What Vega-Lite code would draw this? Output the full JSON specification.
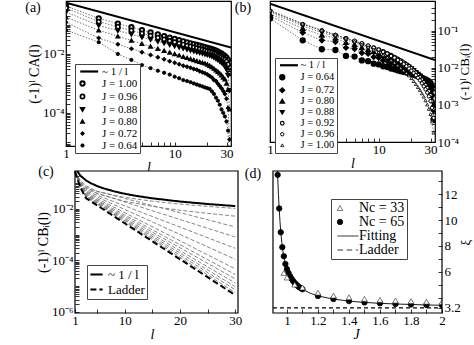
{
"$schema":"https://vega.github.io/schema/vega-lite/v6.json",
"background":"white",
"padding":{"left":24,"top":0,"right":0,"bottom":0},
"datasets":{
"A":[
{"s":"~ 1 / l","l":1,"v":0.55},{"s":"~ 1 / l","l":33,"v":0.0167},
{"s":"J = 1.00","l":1,"v":0.427},{"s":"J = 1.00","l":2,"v":0.162},{"s":"J = 1.00","l":3,"v":0.108},{"s":"J = 1.00","l":4,"v":0.0809},{"s":"J = 1.00","l":5,"v":0.0647},{"s":"J = 1.00","l":6,"v":0.054},{"s":"J = 1.00","l":7,"v":0.0462},{"s":"J = 1.00","l":8,"v":0.0405},{"s":"J = 1.00","l":9,"v":0.036},{"s":"J = 1.00","l":10,"v":0.0324},{"s":"J = 1.00","l":11,"v":0.0294},{"s":"J = 1.00","l":12,"v":0.027},{"s":"J = 1.00","l":13,"v":0.0249},{"s":"J = 1.00","l":14,"v":0.0231},{"s":"J = 1.00","l":15,"v":0.0216},{"s":"J = 1.00","l":16,"v":0.0202},{"s":"J = 1.00","l":17,"v":0.0191},{"s":"J = 1.00","l":18,"v":0.018},{"s":"J = 1.00","l":19,"v":0.017},{"s":"J = 1.00","l":20,"v":0.0162},{"s":"J = 1.00","l":21,"v":0.0154},{"s":"J = 1.00","l":22,"v":0.0147},{"s":"J = 1.00","l":23,"v":0.0137},{"s":"J = 1.00","l":24,"v":0.0129},{"s":"J = 1.00","l":25,"v":0.0121},{"s":"J = 1.00","l":26,"v":0.0111},{"s":"J = 1.00","l":27,"v":0.0102},{"s":"J = 1.00","l":28,"v":0.0094},{"s":"J = 1.00","l":29,"v":0.00847},{"s":"J = 1.00","l":30,"v":0.00746},{"s":"J = 1.00","l":31,"v":0.0063},{"s":"J = 1.00","l":32,"v":0.00359},
{"s":"J = 0.96","l":1,"v":0.363},{"s":"J = 0.96","l":2,"v":0.1256},{"s":"J = 0.96","l":3,"v":0.0838},{"s":"J = 0.96","l":4,"v":0.0628},{"s":"J = 0.96","l":5,"v":0.0502},{"s":"J = 0.96","l":6,"v":0.0419},{"s":"J = 0.96","l":7,"v":0.0359},{"s":"J = 0.96","l":8,"v":0.0314},{"s":"J = 0.96","l":9,"v":0.0279},{"s":"J = 0.96","l":10,"v":0.0251},{"s":"J = 0.96","l":11,"v":0.0229},{"s":"J = 0.96","l":12,"v":0.0209},{"s":"J = 0.96","l":13,"v":0.0193},{"s":"J = 0.96","l":14,"v":0.018},{"s":"J = 0.96","l":15,"v":0.0168},{"s":"J = 0.96","l":16,"v":0.0157},{"s":"J = 0.96","l":17,"v":0.0148},{"s":"J = 0.96","l":18,"v":0.014},{"s":"J = 0.96","l":19,"v":0.0132},{"s":"J = 0.96","l":20,"v":0.0126},{"s":"J = 0.96","l":21,"v":0.012},{"s":"J = 0.96","l":22,"v":0.0114},{"s":"J = 0.96","l":23,"v":0.0107},{"s":"J = 0.96","l":24,"v":0.01},{"s":"J = 0.96","l":25,"v":0.00916},{"s":"J = 0.96","l":26,"v":0.00861},{"s":"J = 0.96","l":27,"v":0.00793},{"s":"J = 0.96","l":28,"v":0.00713},{"s":"J = 0.96","l":29,"v":0.00643},{"s":"J = 0.96","l":30,"v":0.00553},{"s":"J = 0.96","l":31,"v":0.00446},{"s":"J = 0.96","l":32,"v":0.00221},
{"s":"J = 0.88","l":1,"v":0.263},{"s":"J = 0.88","l":2,"v":0.0931},{"s":"J = 0.88","l":3,"v":0.0621},{"s":"J = 0.88","l":4,"v":0.0466},{"s":"J = 0.88","l":5,"v":0.0372},{"s":"J = 0.88","l":6,"v":0.031},{"s":"J = 0.88","l":7,"v":0.0266},{"s":"J = 0.88","l":8,"v":0.0233},{"s":"J = 0.88","l":9,"v":0.0207},{"s":"J = 0.88","l":10,"v":0.0186},{"s":"J = 0.88","l":11,"v":0.0169},{"s":"J = 0.88","l":12,"v":0.0155},{"s":"J = 0.88","l":13,"v":0.0143},{"s":"J = 0.88","l":14,"v":0.0133},{"s":"J = 0.88","l":15,"v":0.0124},{"s":"J = 0.88","l":16,"v":0.0116},{"s":"J = 0.88","l":17,"v":0.011},{"s":"J = 0.88","l":18,"v":0.0104},{"s":"J = 0.88","l":19,"v":0.0098},{"s":"J = 0.88","l":20,"v":0.0093},{"s":"J = 0.88","l":21,"v":0.0089},{"s":"J = 0.88","l":22,"v":0.0083},{"s":"J = 0.88","l":23,"v":0.0076},{"s":"J = 0.88","l":24,"v":0.0069},{"s":"J = 0.88","l":25,"v":0.0063},{"s":"J = 0.88","l":26,"v":0.0057},{"s":"J = 0.88","l":27,"v":0.0051},{"s":"J = 0.88","l":28,"v":0.0045},{"s":"J = 0.88","l":29,"v":0.0039},{"s":"J = 0.88","l":30,"v":0.003},{"s":"J = 0.88","l":31,"v":0.0019},{"s":"J = 0.88","l":32,"v":0.00058},
{"s":"J = 0.80","l":1,"v":0.178},{"s":"J = 0.80","l":2,"v":0.0637},{"s":"J = 0.80","l":3,"v":0.0399},{"s":"J = 0.80","l":4,"v":0.0287},{"s":"J = 0.80","l":5,"v":0.0222},{"s":"J = 0.80","l":6,"v":0.018},{"s":"J = 0.80","l":7,"v":0.0151},{"s":"J = 0.80","l":8,"v":0.0129},{"s":"J = 0.80","l":9,"v":0.0113},{"s":"J = 0.80","l":10,"v":0.01},{"s":"J = 0.80","l":11,"v":0.009},{"s":"J = 0.80","l":12,"v":0.0081},{"s":"J = 0.80","l":13,"v":0.0074},{"s":"J = 0.80","l":14,"v":0.0068},{"s":"J = 0.80","l":15,"v":0.0063},{"s":"J = 0.80","l":16,"v":0.0058},{"s":"J = 0.80","l":17,"v":0.0054},{"s":"J = 0.80","l":18,"v":0.0051},{"s":"J = 0.80","l":19,"v":0.0048},{"s":"J = 0.80","l":20,"v":0.0044},{"s":"J = 0.80","l":21,"v":0.004},{"s":"J = 0.80","l":22,"v":0.0036},{"s":"J = 0.80","l":23,"v":0.0032},{"s":"J = 0.80","l":24,"v":0.0028},{"s":"J = 0.80","l":25,"v":0.0025},{"s":"J = 0.80","l":26,"v":0.0022},{"s":"J = 0.80","l":27,"v":0.0019},{"s":"J = 0.80","l":28,"v":0.0016},{"s":"J = 0.80","l":29,"v":0.0014},{"s":"J = 0.80","l":30,"v":0.001},{"s":"J = 0.80","l":31,"v":0.00061},{"s":"J = 0.80","l":32,"v":0.000132},
{"s":"J = 0.72","l":1,"v":0.12},{"s":"J = 0.72","l":2,"v":0.0346},{"s":"J = 0.72","l":3,"v":0.0213},{"s":"J = 0.72","l":4,"v":0.0151},{"s":"J = 0.72","l":5,"v":0.0115},{"s":"J = 0.72","l":6,"v":0.0093},{"s":"J = 0.72","l":7,"v":0.0077},{"s":"J = 0.72","l":8,"v":0.0066},{"s":"J = 0.72","l":9,"v":0.0057},{"s":"J = 0.72","l":10,"v":0.005},{"s":"J = 0.72","l":11,"v":0.0045},{"s":"J = 0.72","l":12,"v":0.004},{"s":"J = 0.72","l":13,"v":0.0037},{"s":"J = 0.72","l":14,"v":0.0034},{"s":"J = 0.72","l":15,"v":0.0031},{"s":"J = 0.72","l":16,"v":0.0029},{"s":"J = 0.72","l":17,"v":0.0026},{"s":"J = 0.72","l":18,"v":0.0024},{"s":"J = 0.72","l":19,"v":0.0022},{"s":"J = 0.72","l":20,"v":0.002},{"s":"J = 0.72","l":21,"v":0.0018},{"s":"J = 0.72","l":22,"v":0.0016},{"s":"J = 0.72","l":23,"v":0.0013},{"s":"J = 0.72","l":24,"v":0.0012},{"s":"J = 0.72","l":25,"v":0.00098},{"s":"J = 0.72","l":26,"v":0.00082},{"s":"J = 0.72","l":27,"v":0.00068},{"s":"J = 0.72","l":28,"v":0.00055},{"s":"J = 0.72","l":29,"v":0.00044},{"s":"J = 0.72","l":30,"v":0.0003},{"s":"J = 0.72","l":31,"v":0.000145},{"s":"J = 0.72","l":32,"v":0.0000124},
{"s":"J = 0.64","l":1,"v":0.0646},{"s":"J = 0.64","l":2,"v":0.0251},{"s":"J = 0.64","l":3,"v":0.01},{"s":"J = 0.64","l":4,"v":0.0063},{"s":"J = 0.64","l":5,"v":0.0042},{"s":"J = 0.64","l":6,"v":0.0033},{"s":"J = 0.64","l":7,"v":0.0027},{"s":"J = 0.64","l":8,"v":0.0023},{"s":"J = 0.64","l":9,"v":0.002},{"s":"J = 0.64","l":10,"v":0.0017},{"s":"J = 0.64","l":11,"v":0.0015},{"s":"J = 0.64","l":12,"v":0.0013},{"s":"J = 0.64","l":13,"v":0.0012},{"s":"J = 0.64","l":14,"v":0.0011},{"s":"J = 0.64","l":15,"v":0.001},{"s":"J = 0.64","l":16,"v":0.00092},{"s":"J = 0.64","l":17,"v":0.00085},{"s":"J = 0.64","l":18,"v":0.00079},{"s":"J = 0.64","l":19,"v":0.00073},{"s":"J = 0.64","l":20,"v":0.00069},{"s":"J = 0.64","l":21,"v":0.00065},{"s":"J = 0.64","l":22,"v":0.00054},{"s":"J = 0.64","l":23,"v":0.00044},{"s":"J = 0.64","l":24,"v":0.00033},{"s":"J = 0.64","l":25,"v":0.00026},{"s":"J = 0.64","l":26,"v":0.00019},{"s":"J = 0.64","l":27,"v":0.00013},{"s":"J = 0.64","l":28,"v":0.0001},{"s":"J = 0.64","l":29,"v":0.000076},{"s":"J = 0.64","l":30,"v":0.000051},{"s":"J = 0.64","l":31,"v":0.000025},{"s":"J = 0.64","l":32,"v":0.0000012}
],
"B":[
{"s":"~ 1 / l","l":1,"v":0.53},{"s":"~ 1 / l","l":33,"v":0.0161},
{"s":"J = 0.64","l":1,"v":0.214},{"s":"J = 0.64","l":2,"v":0.055},{"s":"J = 0.64","l":3,"v":0.0316},{"s":"J = 0.64","l":4,"v":0.0302},{"s":"J = 0.64","l":5,"v":0.0209},{"s":"J = 0.64","l":6,"v":0.02},{"s":"J = 0.64","l":7,"v":0.0158},{"s":"J = 0.64","l":8,"v":0.0151},{"s":"J = 0.64","l":9,"v":0.0129},{"s":"J = 0.64","l":10,"v":0.0123},{"s":"J = 0.64","l":11,"v":0.011},{"s":"J = 0.64","l":12,"v":0.0105},{"s":"J = 0.64","l":13,"v":0.00955},{"s":"J = 0.64","l":14,"v":0.00912},{"s":"J = 0.64","l":15,"v":0.00851},{"s":"J = 0.64","l":16,"v":0.00813},{"s":"J = 0.64","l":17,"v":0.00776},{"s":"J = 0.64","l":18,"v":0.00741},{"s":"J = 0.64","l":19,"v":0.00708},{"s":"J = 0.64","l":20,"v":0.00676},{"s":"J = 0.64","l":21,"v":0.00646},{"s":"J = 0.64","l":22,"v":0.00617},{"s":"J = 0.64","l":23,"v":0.00589},{"s":"J = 0.64","l":24,"v":0.00562},{"s":"J = 0.64","l":25,"v":0.00537},{"s":"J = 0.64","l":26,"v":0.00513},{"s":"J = 0.64","l":27,"v":0.0049},{"s":"J = 0.64","l":28,"v":0.00457},{"s":"J = 0.64","l":29,"v":0.00427},{"s":"J = 0.64","l":30,"v":0.00389},{"s":"J = 0.64","l":31,"v":0.00316},{"s":"J = 0.64","l":32,"v":0.000398},
{"s":"J = 0.72","l":1,"v":0.251},{"s":"J = 0.72","l":2,"v":0.0891},{"s":"J = 0.72","l":3,"v":0.055},{"s":"J = 0.72","l":4,"v":0.0501},{"s":"J = 0.72","l":5,"v":0.0347},{"s":"J = 0.72","l":6,"v":0.0324},{"s":"J = 0.72","l":7,"v":0.0251},{"s":"J = 0.72","l":8,"v":0.024},{"s":"J = 0.72","l":9,"v":0.0195},{"s":"J = 0.72","l":10,"v":0.0186},{"s":"J = 0.72","l":11,"v":0.0158},{"s":"J = 0.72","l":12,"v":0.0151},{"s":"J = 0.72","l":13,"v":0.0132},{"s":"J = 0.72","l":14,"v":0.0126},{"s":"J = 0.72","l":15,"v":0.0112},{"s":"J = 0.72","l":16,"v":0.0107},{"s":"J = 0.72","l":17,"v":0.00955},{"s":"J = 0.72","l":18,"v":0.00912},{"s":"J = 0.72","l":19,"v":0.00832},{"s":"J = 0.72","l":20,"v":0.00794},{"s":"J = 0.72","l":21,"v":0.00724},{"s":"J = 0.72","l":22,"v":0.00692},{"s":"J = 0.72","l":23,"v":0.00631},{"s":"J = 0.72","l":24,"v":0.00603},{"s":"J = 0.72","l":25,"v":0.0055},{"s":"J = 0.72","l":26,"v":0.00513},{"s":"J = 0.72","l":27,"v":0.00468},{"s":"J = 0.72","l":28,"v":0.00427},{"s":"J = 0.72","l":29,"v":0.0038},{"s":"J = 0.72","l":30,"v":0.00331},{"s":"J = 0.72","l":31,"v":0.00251},{"s":"J = 0.72","l":32,"v":0.000708},
{"s":"J = 0.80","l":1,"v":0.282},{"s":"J = 0.80","l":2,"v":0.115},{"s":"J = 0.80","l":3,"v":0.0759},{"s":"J = 0.80","l":4,"v":0.0631},{"s":"J = 0.80","l":5,"v":0.0479},{"s":"J = 0.80","l":6,"v":0.0417},{"s":"J = 0.80","l":7,"v":0.0347},{"s":"J = 0.80","l":8,"v":0.0309},{"s":"J = 0.80","l":9,"v":0.0269},{"s":"J = 0.80","l":10,"v":0.024},{"s":"J = 0.80","l":11,"v":0.0214},{"s":"J = 0.80","l":12,"v":0.0195},{"s":"J = 0.80","l":13,"v":0.0174},{"s":"J = 0.80","l":14,"v":0.0158},{"s":"J = 0.80","l":15,"v":0.0145},{"s":"J = 0.80","l":16,"v":0.0132},{"s":"J = 0.80","l":17,"v":0.012},{"s":"J = 0.80","l":18,"v":0.011},{"s":"J = 0.80","l":19,"v":0.01},{"s":"J = 0.80","l":20,"v":0.00912},{"s":"J = 0.80","l":21,"v":0.00832},{"s":"J = 0.80","l":22,"v":0.00759},{"s":"J = 0.80","l":23,"v":0.00692},{"s":"J = 0.80","l":24,"v":0.00631},{"s":"J = 0.80","l":25,"v":0.00562},{"s":"J = 0.80","l":26,"v":0.00501},{"s":"J = 0.80","l":27,"v":0.00447},{"s":"J = 0.80","l":28,"v":0.00389},{"s":"J = 0.80","l":29,"v":0.00331},{"s":"J = 0.80","l":30,"v":0.00275},{"s":"J = 0.80","l":31,"v":0.002},{"s":"J = 0.80","l":32,"v":0.001},
{"s":"J = 0.88","l":1,"v":0.316},{"s":"J = 0.88","l":2,"v":0.135},{"s":"J = 0.88","l":3,"v":0.0891},{"s":"J = 0.88","l":4,"v":0.0708},{"s":"J = 0.88","l":5,"v":0.0562},{"s":"J = 0.88","l":6,"v":0.0479},{"s":"J = 0.88","l":7,"v":0.0407},{"s":"J = 0.88","l":8,"v":0.0355},{"s":"J = 0.88","l":9,"v":0.0316},{"s":"J = 0.88","l":10,"v":0.0282},{"s":"J = 0.88","l":11,"v":0.0251},{"s":"J = 0.88","l":12,"v":0.0224},{"s":"J = 0.88","l":13,"v":0.02},{"s":"J = 0.88","l":14,"v":0.0178},{"s":"J = 0.88","l":15,"v":0.0158},{"s":"J = 0.88","l":16,"v":0.0145},{"s":"J = 0.88","l":17,"v":0.0129},{"s":"J = 0.88","l":18,"v":0.0117},{"s":"J = 0.88","l":19,"v":0.0105},{"s":"J = 0.88","l":20,"v":0.00955},{"s":"J = 0.88","l":21,"v":0.00851},{"s":"J = 0.88","l":22,"v":0.00759},{"s":"J = 0.88","l":23,"v":0.00676},{"s":"J = 0.88","l":24,"v":0.00603},{"s":"J = 0.88","l":25,"v":0.00525},{"s":"J = 0.88","l":26,"v":0.00457},{"s":"J = 0.88","l":27,"v":0.00398},{"s":"J = 0.88","l":28,"v":0.00339},{"s":"J = 0.88","l":29,"v":0.00282},{"s":"J = 0.88","l":30,"v":0.00224},{"s":"J = 0.88","l":31,"v":0.00158},{"s":"J = 0.88","l":32,"v":0.00112},
{"s":"J = 0.92","l":1,"v":0.339},{"s":"J = 0.92","l":2,"v":0.148},{"s":"J = 0.92","l":3,"v":0.1},{"s":"J = 0.92","l":4,"v":0.0759},{"s":"J = 0.92","l":5,"v":0.0617},{"s":"J = 0.92","l":6,"v":0.0525},{"s":"J = 0.92","l":7,"v":0.0447},{"s":"J = 0.92","l":8,"v":0.0389},{"s":"J = 0.92","l":9,"v":0.0347},{"s":"J = 0.92","l":10,"v":0.0309},{"s":"J = 0.92","l":11,"v":0.0275},{"s":"J = 0.92","l":12,"v":0.0245},{"s":"J = 0.92","l":13,"v":0.0219},{"s":"J = 0.92","l":14,"v":0.0195},{"s":"J = 0.92","l":15,"v":0.0174},{"s":"J = 0.92","l":16,"v":0.0155},{"s":"J = 0.92","l":17,"v":0.0138},{"s":"J = 0.92","l":18,"v":0.0123},{"s":"J = 0.92","l":19,"v":0.011},{"s":"J = 0.92","l":20,"v":0.00977},{"s":"J = 0.92","l":21,"v":0.00851},{"s":"J = 0.92","l":22,"v":0.00741},{"s":"J = 0.92","l":23,"v":0.00646},{"s":"J = 0.92","l":24,"v":0.00562},{"s":"J = 0.92","l":25,"v":0.00479},{"s":"J = 0.92","l":26,"v":0.00407},{"s":"J = 0.92","l":27,"v":0.00347},{"s":"J = 0.92","l":28,"v":0.00288},{"s":"J = 0.92","l":29,"v":0.00234},{"s":"J = 0.92","l":30,"v":0.00182},{"s":"J = 0.92","l":31,"v":0.00126},{"s":"J = 0.92","l":32,"v":0.000794},
{"s":"J = 0.96","l":1,"v":0.347},{"s":"J = 0.96","l":2,"v":0.151},{"s":"J = 0.96","l":3,"v":0.102},{"s":"J = 0.96","l":4,"v":0.0776},{"s":"J = 0.96","l":5,"v":0.0631},{"s":"J = 0.96","l":6,"v":0.0537},{"s":"J = 0.96","l":7,"v":0.0457},{"s":"J = 0.96","l":8,"v":0.0398},{"s":"J = 0.96","l":9,"v":0.0347},{"s":"J = 0.96","l":10,"v":0.0309},{"s":"J = 0.96","l":11,"v":0.0269},{"s":"J = 0.96","l":12,"v":0.024},{"s":"J = 0.96","l":13,"v":0.0209},{"s":"J = 0.96","l":14,"v":0.0186},{"s":"J = 0.96","l":15,"v":0.0162},{"s":"J = 0.96","l":16,"v":0.0145},{"s":"J = 0.96","l":17,"v":0.0126},{"s":"J = 0.96","l":18,"v":0.011},{"s":"J = 0.96","l":19,"v":0.00955},{"s":"J = 0.96","l":20,"v":0.00832},{"s":"J = 0.96","l":21,"v":0.00724},{"s":"J = 0.96","l":22,"v":0.00631},{"s":"J = 0.96","l":23,"v":0.00537},{"s":"J = 0.96","l":24,"v":0.00457},{"s":"J = 0.96","l":25,"v":0.0038},{"s":"J = 0.96","l":26,"v":0.00316},{"s":"J = 0.96","l":27,"v":0.00263},{"s":"J = 0.96","l":28,"v":0.00214},{"s":"J = 0.96","l":29,"v":0.0017},{"s":"J = 0.96","l":30,"v":0.00126},{"s":"J = 0.96","l":31,"v":0.000832},{"s":"J = 0.96","l":32,"v":0.000447},
{"s":"J = 1.00","l":1,"v":0.355},{"s":"J = 1.00","l":2,"v":0.155},{"s":"J = 1.00","l":3,"v":0.102},{"s":"J = 1.00","l":4,"v":0.0776},{"s":"J = 1.00","l":5,"v":0.0617},{"s":"J = 1.00","l":6,"v":0.0513},{"s":"J = 1.00","l":7,"v":0.0427},{"s":"J = 1.00","l":8,"v":0.0363},{"s":"J = 1.00","l":9,"v":0.0309},{"s":"J = 1.00","l":10,"v":0.0263},{"s":"J = 1.00","l":11,"v":0.0224},{"s":"J = 1.00","l":12,"v":0.0191},{"s":"J = 1.00","l":13,"v":0.0162},{"s":"J = 1.00","l":14,"v":0.0138},{"s":"J = 1.00","l":15,"v":0.0117},{"s":"J = 1.00","l":16,"v":0.01},{"s":"J = 1.00","l":17,"v":0.00851},{"s":"J = 1.00","l":18,"v":0.00724},{"s":"J = 1.00","l":19,"v":0.00617},{"s":"J = 1.00","l":20,"v":0.00525},{"s":"J = 1.00","l":21,"v":0.00437},{"s":"J = 1.00","l":22,"v":0.00363},{"s":"J = 1.00","l":23,"v":0.00302},{"s":"J = 1.00","l":24,"v":0.00251},{"s":"J = 1.00","l":25,"v":0.00204},{"s":"J = 1.00","l":26,"v":0.00166},{"s":"J = 1.00","l":27,"v":0.00132},{"s":"J = 1.00","l":28,"v":0.00102},{"s":"J = 1.00","l":29,"v":0.000776},{"s":"J = 1.00","l":30,"v":0.000562},{"s":"J = 1.00","l":31,"v":0.000355},{"s":"J = 1.00","l":32,"v":0.000178}
],
"C":[
{"s":"~ 1 / l","l":1,"v":0.39},{"s":"~ 1 / l","l":2,"v":0.195},{"s":"~ 1 / l","l":3,"v":0.13},{"s":"~ 1 / l","l":4,"v":0.0975},{"s":"~ 1 / l","l":5,"v":0.078},{"s":"~ 1 / l","l":6,"v":0.065},{"s":"~ 1 / l","l":8,"v":0.0488},{"s":"~ 1 / l","l":10,"v":0.039},{"s":"~ 1 / l","l":12,"v":0.0325},{"s":"~ 1 / l","l":15,"v":0.026},{"s":"~ 1 / l","l":20,"v":0.0195},{"s":"~ 1 / l","l":25,"v":0.0156},{"s":"~ 1 / l","l":30,"v":0.013},
{"s":"d1","l":1,"v":0.282},{"s":"d1","l":2,"v":0.126},{"s":"d1","l":3,"v":0.0794},{"s":"d1","l":5,"v":0.0479},{"s":"d1","l":10,"v":0.0282},{"s":"d1","l":15,"v":0.02},{"s":"d1","l":20,"v":0.0155},{"s":"d1","l":25,"v":0.0126},{"s":"d1","l":30,"v":0.0105},
{"s":"d2","l":1,"v":0.282},{"s":"d2","l":2,"v":0.112},{"s":"d2","l":3,"v":0.0708},{"s":"d2","l":5,"v":0.0398},{"s":"d2","l":10,"v":0.02},{"s":"d2","l":15,"v":0.0126},{"s":"d2","l":20,"v":0.00891},{"s":"d2","l":25,"v":0.00676},{"s":"d2","l":30,"v":0.00525},
{"s":"d3","l":1,"v":0.282},{"s":"d3","l":2,"v":0.105},{"s":"d3","l":3,"v":0.0631},{"s":"d3","l":30,"v":0.002},
{"s":"d4","l":1,"v":0.282},{"s":"d4","l":2,"v":0.1},{"s":"d4","l":3,"v":0.0562},{"s":"d4","l":30,"v":0.000813},
{"s":"d5","l":1,"v":0.282},{"s":"d5","l":2,"v":0.0955},{"s":"d5","l":3,"v":0.0501},{"s":"d5","l":30,"v":0.000295},
{"s":"d6","l":1,"v":0.282},{"s":"d6","l":2,"v":0.0912},{"s":"d6","l":3,"v":0.0457},{"s":"d6","l":30,"v":0.00011},
{"s":"d7","l":1,"v":0.282},{"s":"d7","l":2,"v":0.0871},{"s":"d7","l":3,"v":0.0417},{"s":"d7","l":30,"v":0.0000468},
{"s":"b1","l":1,"v":0.282},{"s":"b1","l":2,"v":0.0832},{"s":"b1","l":3,"v":0.038},{"s":"b1","l":30,"v":0.0000282},
{"s":"b2","l":1,"v":0.282},{"s":"b2","l":2,"v":0.0794},{"s":"b2","l":3,"v":0.0355},{"s":"b2","l":30,"v":0.0000191},
{"s":"b3","l":1,"v":0.282},{"s":"b3","l":2,"v":0.0759},{"s":"b3","l":3,"v":0.0331},{"s":"b3","l":30,"v":0.0000132},
{"s":"b4","l":1,"v":0.282},{"s":"b4","l":2,"v":0.0741},{"s":"b4","l":3,"v":0.0316},{"s":"b4","l":30,"v":0.00000955},
{"s":"b5","l":1,"v":0.282},{"s":"b5","l":2,"v":0.0724},{"s":"b5","l":3,"v":0.0302},{"s":"b5","l":30,"v":0.00000724},
{"s":"b6","l":1,"v":0.282},{"s":"b6","l":2,"v":0.0708},{"s":"b6","l":3,"v":0.0288},{"s":"b6","l":30,"v":0.00000562},
{"s":"Ladder","l":1,"v":0.282},{"s":"Ladder","l":2,"v":0.0661},{"s":"Ladder","l":3,"v":0.0263},{"s":"Ladder","l":30,"v":0.00000447}
],
"D":[
{"s":"Nc = 65","J":0.94,"v":13.5},{"s":"Nc = 65","J":0.95,"v":10.9},{"s":"Nc = 65","J":0.96,"v":9.05},{"s":"Nc = 65","J":0.97,"v":7.9},{"s":"Nc = 65","J":0.98,"v":7.2},{"s":"Nc = 65","J":0.99,"v":6.6},{"s":"Nc = 65","J":1.0,"v":6.2},{"s":"Nc = 65","J":1.01,"v":5.9},{"s":"Nc = 65","J":1.02,"v":5.65},{"s":"Nc = 65","J":1.03,"v":5.45},{"s":"Nc = 65","J":1.04,"v":5.28},{"s":"Nc = 65","J":1.05,"v":5.13},{"s":"Nc = 65","J":1.06,"v":5.0},{"s":"Nc = 65","J":1.07,"v":4.9},{"s":"Nc = 65","J":1.08,"v":4.8},{"s":"Nc = 65","J":1.09,"v":4.72},{"s":"Nc = 65","J":1.1,"v":4.64},{"s":"Nc = 65","J":1.2,"v":4.12},{"s":"Nc = 65","J":1.3,"v":3.88},{"s":"Nc = 65","J":1.4,"v":3.72},{"s":"Nc = 65","J":1.5,"v":3.62},{"s":"Nc = 65","J":1.6,"v":3.55},{"s":"Nc = 65","J":1.7,"v":3.5},{"s":"Nc = 65","J":1.8,"v":3.46},{"s":"Nc = 65","J":1.9,"v":3.42},{"s":"Nc = 65","J":2.0,"v":3.4},
{"s":"Nc = 33","J":0.98,"v":5.9},{"s":"Nc = 33","J":1.0,"v":5.55},{"s":"Nc = 33","J":1.05,"v":5.0},{"s":"Nc = 33","J":1.1,"v":4.78},{"s":"Nc = 33","J":1.2,"v":4.38},{"s":"Nc = 33","J":1.3,"v":4.15},{"s":"Nc = 33","J":1.4,"v":4.02},{"s":"Nc = 33","J":1.5,"v":3.9},{"s":"Nc = 33","J":1.6,"v":3.82},{"s":"Nc = 33","J":1.7,"v":3.76},{"s":"Nc = 33","J":1.8,"v":3.72},{"s":"Nc = 33","J":1.9,"v":3.68},{"s":"Nc = 33","J":2.0,"v":3.65},
{"s":"Fitting","J":0.933,"v":15},{"s":"Fitting","J":0.94,"v":13.5},{"s":"Fitting","J":0.945,"v":12.0},{"s":"Fitting","J":0.95,"v":10.9},{"s":"Fitting","J":0.955,"v":9.9},{"s":"Fitting","J":0.96,"v":9.1},{"s":"Fitting","J":0.97,"v":7.9},{"s":"Fitting","J":0.98,"v":7.15},{"s":"Fitting","J":0.99,"v":6.6},{"s":"Fitting","J":1.0,"v":6.2},{"s":"Fitting","J":1.02,"v":5.65},{"s":"Fitting","J":1.04,"v":5.28},{"s":"Fitting","J":1.06,"v":5.0},{"s":"Fitting","J":1.08,"v":4.8},{"s":"Fitting","J":1.1,"v":4.64},{"s":"Fitting","J":1.15,"v":4.33},{"s":"Fitting","J":1.2,"v":4.12},{"s":"Fitting","J":1.3,"v":3.88},{"s":"Fitting","J":1.4,"v":3.72},{"s":"Fitting","J":1.5,"v":3.62},{"s":"Fitting","J":1.6,"v":3.55},{"s":"Fitting","J":1.7,"v":3.5},{"s":"Fitting","J":1.8,"v":3.46},{"s":"Fitting","J":1.9,"v":3.42},{"s":"Fitting","J":2.0,"v":3.4},
{"s":"Ladder","J":0.91,"v":3.2},{"s":"Ladder","J":2.0,"v":3.2}
]
},
"concat":[
{
"width":165,"height":145,
"data":{"name":"A"},
"encoding":{
"x":{"field":"l","type":"quantitative","scale":{"type":"log","domain":[1,33],"nice":false},"axis":{"values":[1,2,3,4,5,6,7,8,9,10,20,30],"labelExpr":"datum.value==1||datum.value==10||datum.value==30 ? ''+datum.value : ''","title":"l","titleFontStyle":"italic"}},
"y":{"field":"v","type":"quantitative","scale":{"type":"log","domain":[0.0000075,0.63],"nice":false},"axis":{"values":[0.000008,0.000009,0.00001,0.00002,0.00003,0.00004,0.00005,0.00006,0.00007,0.00008,0.00009,0.0001,0.0002,0.0003,0.0004,0.0005,0.0006,0.0007,0.0008,0.0009,0.001,0.002,0.003,0.004,0.005,0.006,0.007,0.008,0.009,0.01,0.02,0.03,0.04,0.05,0.06,0.07,0.08,0.09,0.1,0.2,0.3,0.4],"labelExpr":"datum.value==0.01 ? '10⁻²' : datum.value==0.0001 ? '10⁻⁴' : ''","title":"(-1)ˡ CA(l)"}}
},
"layer":[
{"transform":[{"filter":"datum.s != '~ 1 / l'"}],"mark":{"type":"line","color":"#555","strokeWidth":0.8,"strokeDash":[1.5,1.5],"clip":true},"encoding":{"detail":{"field":"s","type":"nominal"}}},
{"transform":[{"filter":"datum.s == '~ 1 / l'"}],"mark":{"type":"line","color":"black","strokeWidth":2,"clip":true},"encoding":{}},
{"transform":[{"filter":"datum.s != '~ 1 / l'"}],"mark":{"type":"point","opacity":1,"clip":true},
"encoding":{
"shape":{"field":"s","type":"nominal","scale":{"domain":["~ 1 / l","J = 1.00","J = 0.96","J = 0.88","J = 0.80","J = 0.72","J = 0.64"],"range":["M-1,0H7","circle","circle","triangle-down","triangle-up","diamond","circle"]},"legend":{"orient":"none","legendX":9,"legendY":63,"title":null,"labelFontSize":11,"rowPadding":0,"labelOffset":14,"padding":2}},
"fill":{"field":"s","type":"nominal","scale":{"domain":["~ 1 / l","J = 1.00","J = 0.96","J = 0.88","J = 0.80","J = 0.72","J = 0.64"],"range":["transparent","white","white","black","black","black","black"]},"legend":{"orient":"none","legendX":9,"legendY":63,"title":null,"labelFontSize":11,"rowPadding":0,"labelOffset":14,"padding":2}},
"stroke":{"field":"s","type":"nominal","scale":{"domain":["~ 1 / l","J = 1.00","J = 0.96","J = 0.88","J = 0.80","J = 0.72","J = 0.64"],"range":["black","black","black","black","black","black","black"]},"legend":{"orient":"none","legendX":9,"legendY":63,"title":null,"labelFontSize":11,"rowPadding":0,"labelOffset":14,"padding":2}},
"size":{"field":"s","type":"nominal","scale":{"domain":["~ 1 / l","J = 1.00","J = 0.96","J = 0.88","J = 0.80","J = 0.72","J = 0.64"],"range":[20,11,18,14,14,14,12]},"legend":{"orient":"none","legendX":9,"legendY":63,"title":null,"labelFontSize":11,"rowPadding":0,"labelOffset":14,"padding":2}},
"strokeWidth":{"field":"s","type":"nominal","scale":{"domain":["~ 1 / l","J = 1.00","J = 0.96","J = 0.88","J = 0.80","J = 0.72","J = 0.64"],"range":[2.2,0.8,0.8,0.8,0.8,0.8,0.8]},"legend":{"orient":"none","legendX":9,"legendY":63,"title":null,"labelFontSize":11,"rowPadding":0,"labelOffset":14,"padding":2}}
}},
{"data":{"values":[{"t":"(a)","l":0.497,"v":0.3644}]},"mark":{"type":"text","font":"Liberation Serif","fontSize":14,"align":"center","baseline":"middle","color":"black"},"encoding":{"text":{"field":"t","type":"nominal"}}}
]
},
{
"width":165,"height":141,
"data":{"name":"B"},
"encoding":{
"x":{"field":"l","type":"quantitative","scale":{"type":"log","domain":[1,33],"nice":false},"axis":{"values":[1,2,3,4,5,6,7,8,9,10,20,30],"labelExpr":"datum.value==1||datum.value==10||datum.value==30 ? ''+datum.value : ''","title":"l","titleFontStyle":"italic"}},
"y":{"field":"v","type":"quantitative","scale":{"type":"log","domain":[0.0001,0.631],"nice":false},"axis":{"orient":"right","values":[0.0001,0.0002,0.0003,0.0004,0.0005,0.0006,0.0007,0.0008,0.0009,0.001,0.002,0.003,0.004,0.005,0.006,0.007,0.008,0.009,0.01,0.02,0.03,0.04,0.05,0.06,0.07,0.08,0.09,0.1,0.2,0.3,0.4],"labelExpr":"datum.value==0.1 ? '10⁻¹' : datum.value==0.01 ? '10⁻²' : datum.value==0.001 ? '10⁻³' : datum.value==0.0001 ? '10⁻⁴' : ''","title":"(-1)ˡ CBᵢ(l)","titleFontSize":13,"titleAngle":270,"titleBaseline":"top","titlePadding":0}}
},
"layer":[
{"transform":[{"filter":"datum.s != '~ 1 / l'"}],"mark":{"type":"line","color":"#555","strokeWidth":0.8,"strokeDash":[1.5,1.5],"clip":true},"encoding":{"detail":{"field":"s","type":"nominal"}}},
{"transform":[{"filter":"datum.s == '~ 1 / l'"}],"mark":{"type":"line","color":"black","strokeWidth":2,"clip":true},"encoding":{}},
{"transform":[{"filter":"datum.s != '~ 1 / l'"}],"mark":{"type":"point","opacity":1,"clip":true},
"encoding":{
"shape":{"field":"s","type":"nominal","scale":{"domain":["~ 1 / l","J = 0.64","J = 0.72","J = 0.80","J = 0.88","J = 0.92","J = 0.96","J = 1.00"],"range":["M-1,0H7","circle","diamond","triangle-up","triangle-down","circle","circle","triangle-up"]},"legend":{"orient":"none","legendX":5,"legendY":57,"title":null,"labelFontSize":10.5,"rowPadding":0,"labelOffset":13,"padding":2}},
"fill":{"field":"s","type":"nominal","scale":{"domain":["~ 1 / l","J = 0.64","J = 0.72","J = 0.80","J = 0.88","J = 0.92","J = 0.96","J = 1.00"],"range":["transparent","black","black","black","black","white","white","white"]},"legend":{"orient":"none","legendX":5,"legendY":57,"title":null,"labelFontSize":10.5,"rowPadding":0,"labelOffset":13,"padding":2}},
"stroke":{"field":"s","type":"nominal","scale":{"domain":["~ 1 / l","J = 0.64","J = 0.72","J = 0.80","J = 0.88","J = 0.92","J = 0.96","J = 1.00"],"range":["black","black","black","black","black","black","black","black"]},"legend":{"orient":"none","legendX":5,"legendY":57,"title":null,"labelFontSize":10.5,"rowPadding":0,"labelOffset":13,"padding":2}},
"size":{"field":"s","type":"nominal","scale":{"domain":["~ 1 / l","J = 0.64","J = 0.72","J = 0.80","J = 0.88","J = 0.92","J = 0.96","J = 1.00"],"range":[20,10,13,13,13,16,12,16]},"legend":{"orient":"none","legendX":5,"legendY":57,"title":null,"labelFontSize":10.5,"rowPadding":0,"labelOffset":13,"padding":2}},
"strokeWidth":{"field":"s","type":"nominal","scale":{"domain":["~ 1 / l","J = 0.64","J = 0.72","J = 0.80","J = 0.88","J = 0.92","J = 0.96","J = 1.00"],"range":[2.2,0.8,0.8,0.8,0.8,0.8,0.8,0.8]},"legend":{"orient":"none","legendX":5,"legendY":57,"title":null,"labelFontSize":10.5,"rowPadding":0,"labelOffset":13,"padding":2}}
}},
{"data":{"values":[{"t":"(b)","l":0.5644,"v":0.4088}]},"mark":{"type":"text","font":"Liberation Serif","fontSize":14,"align":"center","baseline":"middle","color":"black"},"encoding":{"text":{"field":"t","type":"nominal"}}}
]
},
{
"width":172,"height":142,
"view":{"stroke":null},
"data":{"name":"C"},
"encoding":{
"x":{"field":"l","type":"quantitative","scale":{"domain":[-0.629,30.5],"nice":false,"zero":false},"axis":{"values":[1,5,10,15,20,25,30],"labelExpr":"datum.value==1||datum.value==10||datum.value==20||datum.value==30 ? ''+datum.value : ''","title":"l","titleFontStyle":"italic"}},
"y":{"field":"v","type":"quantitative","scale":{"type":"log","domain":[0.0000009,0.3],"nice":false},"axis":{"offset":-9,"values":[0.000001,0.000002,0.000003,0.000004,0.000005,0.000006,0.000007,0.000008,0.000009,0.00001,0.00002,0.00003,0.00004,0.00005,0.00006,0.00007,0.00008,0.00009,0.0001,0.0002,0.0003,0.0004,0.0005,0.0006,0.0007,0.0008,0.0009,0.001,0.002,0.003,0.004,0.005,0.006,0.007,0.008,0.009,0.01,0.02,0.03,0.04,0.05,0.06,0.07,0.08,0.09,0.1,0.2],"labelExpr":"datum.value==0.01 ? '10⁻²' : datum.value==0.0001 ? '10⁻⁴' : datum.value==0.000001 ? '10⁻⁶' : ''","title":"(-1)ˡ CBᵢ(l)"}}
},
"layer":[
{"transform":[{"filter":"datum.s != '~ 1 / l' && datum.s != 'Ladder'"}],"mark":{"type":"line","color":"#777","strokeWidth":0.9,"strokeDash":[4,2],"clip":true},"encoding":{"detail":{"field":"s","type":"nominal"}}},
{"transform":[{"filter":"datum.s == '~ 1 / l' || datum.s == 'Ladder'"}],"mark":{"type":"line","color":"black","strokeWidth":2,"clip":true},"encoding":{"strokeDash":{"field":"s","type":"nominal","scale":{"domain":["~ 1 / l","Ladder"],"range":[[1,0],[6,3]]},"legend":{"orient":"none","legendX":21,"legendY":94,"title":null,"labelFontSize":13,"rowPadding":0,"symbolSize":150,"symbolStrokeWidth":2,"symbolStrokeColor":"black","padding":2,"labelOffset":4}}}},
{"data":{"values":[{"l":1,"l2":30.5,"v":0.0000009,"v2":0.3}]},"mark":{"type":"rect","fill":null,"stroke":"black","strokeWidth":1.2},"encoding":{"x2":{"field":"l2"},"y2":{"field":"v2"}}},
{"data":{"values":[{"t":"(c)","l":-4.249,"v":0.274}]},"mark":{"type":"text","font":"Liberation Serif","fontSize":14,"align":"center","baseline":"middle","color":"black"},"encoding":{"text":{"field":"t","type":"nominal"}}}
]
},
{
"width":172,"height":142,
"view":{"stroke":null},
"data":{"name":"D"},
"encoding":{
"x":{"field":"J","type":"quantitative","scale":{"domain":[0.8907,2.0],"nice":false,"zero":false},"axis":{"values":[1,1.1,1.2,1.3,1.4,1.5,1.6,1.7,1.8,1.9,2],"labelExpr":"indexof(['1','1.2','1.4','1.6','1.8','2'], format(datum.value,'~g')) >= 0 ? format(datum.value,'~g') : ''","title":"J","titleFontStyle":"italic"}},
"y":{"field":"v","type":"quantitative","scale":{"domain":[2.8,13.8],"nice":false,"zero":false},"axis":{"orient":"right","values":[3.2,4,5,6,7,8,9,10,11,12,13],"labelExpr":"indexof([3.2,6,8,10,12], datum.value) >= 0 ? format(datum.value,'~g') : ''","title":"ξ","titleFontSize":13,"titleAngle":270,"titleBaseline":"top","titlePadding":-1}}
},
"layer":[
{"transform":[{"filter":"datum.s == 'Fitting'"}],"mark":{"type":"line","color":"black","strokeWidth":0.9,"clip":true},"encoding":{}},
{"transform":[{"filter":"datum.s == 'Ladder'"}],"mark":{"type":"line","color":"black","strokeWidth":1.2,"strokeDash":[4,3],"clip":true},"encoding":{}},
{"transform":[{"filter":"datum.s == 'Nc = 33' || datum.s == 'Nc = 65'"}],"mark":{"type":"point","opacity":1,"clip":true},
"encoding":{
"shape":{"field":"s","type":"nominal","scale":{"domain":["Nc = 33","Nc = 65","Fitting","Ladder"],"range":["triangle-up","circle","M-1,0H7","M-1,0H1.2M2.6,0H4.8M6.2,0H7"]},"legend":{"orient":"none","legendX":61,"legendY":28,"title":null,"labelFontSize":14,"rowPadding":0,"labelOffset":12,"padding":2}},
"fill":{"field":"s","type":"nominal","scale":{"domain":["Nc = 33","Nc = 65","Fitting","Ladder"],"range":["white","black","transparent","transparent"]},"legend":{"orient":"none","legendX":61,"legendY":28,"title":null,"labelFontSize":14,"rowPadding":0,"labelOffset":12,"padding":2}},
"stroke":{"field":"s","type":"nominal","scale":{"domain":["Nc = 33","Nc = 65","Fitting","Ladder"],"range":["#444","black","black","black"]},"legend":{"orient":"none","legendX":61,"legendY":28,"title":null,"labelFontSize":14,"rowPadding":0,"labelOffset":12,"padding":2}},
"size":{"field":"s","type":"nominal","scale":{"domain":["Nc = 33","Nc = 65","Fitting","Ladder"],"range":[32,26,20,20]},"legend":{"orient":"none","legendX":61,"legendY":28,"title":null,"labelFontSize":14,"rowPadding":0,"labelOffset":12,"padding":2}},
"strokeWidth":{"field":"s","type":"nominal","scale":{"domain":["Nc = 33","Nc = 65","Fitting","Ladder"],"range":[0.7,0.8,1,1.2]},"legend":{"orient":"none","legendX":61,"legendY":28,"title":null,"labelFontSize":14,"rowPadding":0,"labelOffset":12,"padding":2}}
}},
{"data":{"values":[{"J":0.91,"J2":2.0,"v":2.8,"v2":13.8}]},"mark":{"type":"rect","fill":null,"stroke":"black","strokeWidth":1.2},"encoding":{"x2":{"field":"J2"},"y2":{"field":"v2"}}},
{"data":{"values":[{"t":"(d)","J":0.781,"v":13.57}]},"mark":{"type":"text","font":"Liberation Serif","fontSize":14,"align":"center","baseline":"middle","color":"black"},"encoding":{"text":{"field":"t","type":"nominal"}}}
]
}
],
"columns":2,
"bounds":"flush",
"spacing":{"row":25,"column":32},
"resolve":{"scale":{"x":"independent","y":"independent","shape":"independent","fill":"independent","stroke":"independent","size":"independent","strokeWidth":"independent","strokeDash":"independent"},"legend":{"shape":"independent","fill":"independent","stroke":"independent","size":"independent","strokeWidth":"independent","strokeDash":"independent"}},
"config":{
"font":"Liberation Serif",
"view":{"stroke":"black","strokeWidth":1.2,"fill":"white"},
"axis":{"domain":false,"grid":false,"ticks":true,"tickColor":"black","tickSize":-4,"tickWidth":0.8,"labelPadding":6,"labelFont":"Liberation Serif","labelFontSize":13,"labelColor":"black","labelFlush":false,"labelOverlap":false,"titleFont":"Liberation Serif","titleFontSize":14,"titleFontWeight":"normal","titleColor":"black","titlePadding":1},
"axisX":{"labelPadding":5,"titlePadding":0},
"legend":{"labelFont":"Liberation Serif","labelColor":"black","symbolStrokeColor":"black","strokeColor":"#444","fillColor":"white"}
}
}
